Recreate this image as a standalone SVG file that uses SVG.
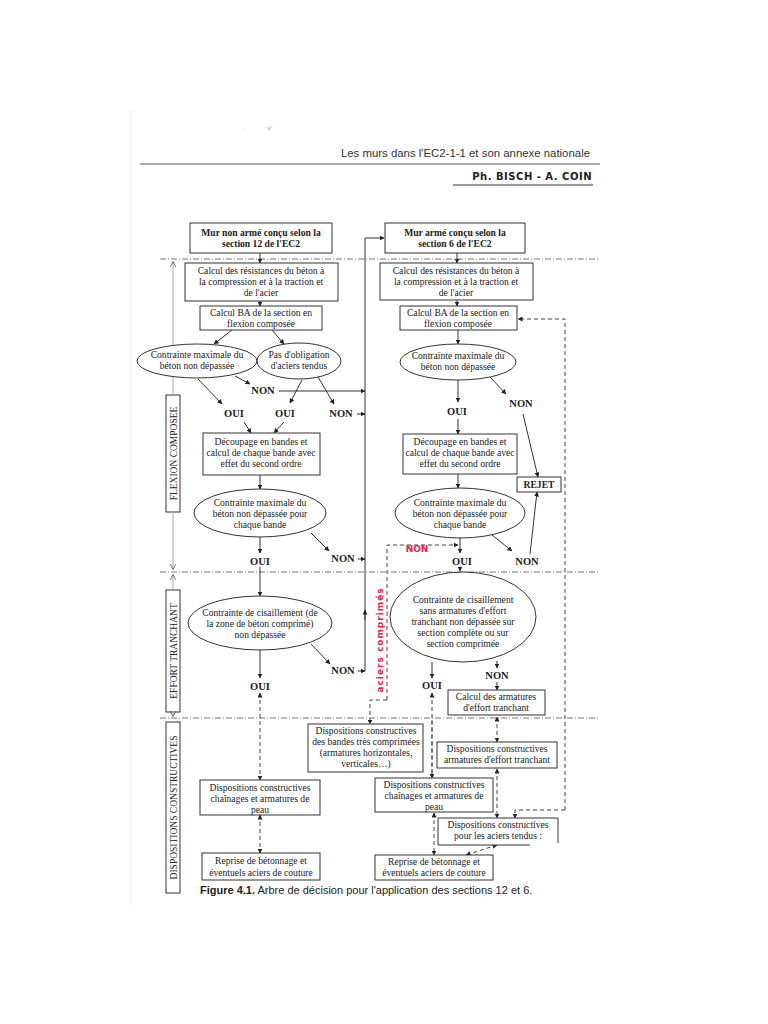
<svg xmlns="http://www.w3.org/2000/svg" width="768" height="1024" viewBox="0 0 768 1024">
<defs>
<marker id="a" viewBox="0 0 10 10" refX="9" refY="5" markerWidth="5" markerHeight="5" orient="auto-start-reverse"><path d="M0,0 L10,5 L0,10 z" fill="#222"/></marker>
<marker id="o" viewBox="0 0 10 10" refX="9" refY="5" markerWidth="6" markerHeight="6" orient="auto-start-reverse"><path d="M0,0 L10,5 L0,10" fill="none" stroke="#444" stroke-width="1.2"/></marker>
<style>
.b{fill:#fff;stroke:#333;stroke-width:1}
.t{font-family:"Liberation Serif","Times New Roman",serif;font-size:9.6px;fill:#222;text-anchor:middle}
.tb{font-family:"Liberation Serif","Times New Roman",serif;font-size:9.6px;font-weight:bold;fill:#222;text-anchor:middle}
.on{font-family:"Liberation Serif","Times New Roman",serif;font-size:10.5px;font-weight:bold;fill:#222;text-anchor:middle}
.side{font-family:"Liberation Serif","Times New Roman",serif;font-size:9.5px;fill:#222;text-anchor:middle}
.l{fill:none;stroke:#333;stroke-width:1}
.d{fill:none;stroke:#444;stroke-width:1;stroke-dasharray:4,3}
.sep{fill:none;stroke:#777;stroke-width:1;stroke-dasharray:6,2,1,2}
.red{font-family:"DejaVu Sans","Liberation Sans",sans-serif;font-size:9px;fill:#e8204a;text-anchor:middle;font-weight:bold}
</style>
</defs>
<rect width="768" height="1024" fill="#fff"/>
<line x1="131" y1="110" x2="131" y2="905" stroke="#e6e6e6" stroke-width="1"/>
<text x="242" y="130" font-family="Liberation Sans,sans-serif" font-size="5" fill="#999">· .</text>
<text x="268" y="130" font-family="Liberation Sans,sans-serif" font-size="5" fill="#999">ɞ''</text>

<text x="590" y="157" font-family="Liberation Sans,Arial,sans-serif" font-size="11.4" fill="#333" text-anchor="end">Les murs dans l'EC2-1-1 et son annexe nationale</text>
<line x1="140" y1="164" x2="600" y2="164" stroke="#555" stroke-width="1"/>
<text x="592" y="180" font-family="DejaVu Sans,sans-serif" font-size="10" font-weight="bold" fill="#222" text-anchor="end" letter-spacing="0.5">Ph. BISCH - A. COIN</text>
<line x1="453" y1="185" x2="593" y2="185" stroke="#333" stroke-width="1.2"/>

<g id="separators">
<line class="sep" x1="160" y1="259" x2="600" y2="259"/>
<line class="sep" x1="160" y1="572" x2="600" y2="572"/>
<line class="sep" x1="160" y1="718" x2="600" y2="718"/>
</g>

<g id="sidebar">
<g id="lab-flexion"><rect class="b" x="166" y="395" width="14" height="117"/><text class="side" transform="translate(176.5,453.5) rotate(-90)">FLEXION COMPOSEE</text></g>
<g id="lab-effort"><rect class="b" x="166" y="590" width="14" height="122"/><text class="side" transform="translate(176.5,651) rotate(-90)">EFFORT TRANCHANT</text></g>
<g id="lab-dispo"><rect class="b" x="166" y="722" width="14" height="171"/><text class="side" font-family="Liberation Sans,Arial,sans-serif" transform="translate(176.5,807.5) rotate(-90)">DISPOSITIONS CONSTRUCTIVES</text></g>
<line x1="173" y1="262" x2="173" y2="395" stroke="#aaa" marker-start="url(#o)"/>
<line x1="173" y1="512" x2="173" y2="569" stroke="#aaa" marker-end="url(#o)"/>
<line x1="173" y1="575" x2="173" y2="590" stroke="#aaa" marker-start="url(#o)"/>
<line x1="173" y1="712" x2="173" y2="716" stroke="#aaa" marker-end="url(#o)"/>
</g>

<g id="connectors">
<line class="l" x1="260" y1="253" x2="260" y2="263" marker-end="url(#a)"/>
<line class="l" x1="260" y1="301" x2="260" y2="306" marker-end="url(#a)"/>
<line class="l" x1="232" y1="330" x2="214" y2="344" marker-end="url(#a)"/>
<line class="l" x1="272" y1="330" x2="284" y2="344" marker-end="url(#a)"/>
<line class="l" x1="235" y1="376" x2="250" y2="384" marker-end="url(#a)"/>
<line class="l" x1="279" y1="391" x2="365" y2="391" marker-end="url(#a)"/>
<line class="l" x1="198" y1="379" x2="222" y2="404" marker-end="url(#a)"/>
<line class="l" x1="302" y1="380" x2="290" y2="403" marker-end="url(#a)"/>
<line class="l" x1="318" y1="377" x2="334" y2="404" marker-end="url(#a)"/>
<line class="l" x1="357" y1="414" x2="365" y2="414" marker-end="url(#a)"/>
<line class="l" x1="244" y1="422" x2="251" y2="433" marker-end="url(#a)"/>
<line class="l" x1="284" y1="422" x2="274" y2="433" marker-end="url(#a)"/>
<line class="l" x1="260" y1="475" x2="260" y2="489" marker-end="url(#a)"/>
<line class="l" x1="311" y1="533" x2="329" y2="551" marker-end="url(#a)"/>
<line class="l" x1="358" y1="559" x2="365" y2="559" marker-end="url(#a)"/>
<line class="l" x1="260" y1="537" x2="260" y2="553" marker-end="url(#a)"/>
<line class="l" x1="260" y1="567" x2="260" y2="596" marker-end="url(#a)"/>
<line class="l" x1="311" y1="644" x2="330" y2="664" marker-end="url(#a)"/>
<line class="l" x1="358" y1="671" x2="365" y2="671" marker-end="url(#a)"/>
<line class="l" x1="260" y1="650" x2="260" y2="678" marker-end="url(#a)"/>
<line class="d" x1="260" y1="693" x2="260" y2="780" marker-start="url(#a)" marker-end="url(#a)"/>
<line class="d" x1="260" y1="815" x2="260" y2="853" marker-start="url(#a)" marker-end="url(#a)"/>
<polyline class="l" points="365,671 365,238 384,238" marker-end="url(#a)"/>
<line class="l" x1="365" y1="620" x2="365" y2="610" marker-end="url(#a)"/>
<line class="l" x1="457" y1="253" x2="457" y2="263" marker-end="url(#a)"/>
<line class="l" x1="457" y1="300" x2="457" y2="306" marker-end="url(#a)"/>
<line class="l" x1="458" y1="330" x2="458" y2="344" marker-end="url(#a)"/>
<line class="l" x1="458" y1="380" x2="458" y2="402" marker-end="url(#a)"/>
<line class="l" x1="458" y1="419" x2="458" y2="434" marker-end="url(#a)"/>
<line class="l" x1="490" y1="377" x2="506" y2="394" marker-end="url(#a)"/>
<line class="l" x1="523" y1="414" x2="538" y2="477" marker-end="url(#a)"/>
<line class="l" x1="458" y1="474" x2="458" y2="488" marker-end="url(#a)"/>
<line class="l" x1="492" y1="535" x2="512" y2="551" marker-end="url(#a)"/>
<line class="l" x1="530" y1="554" x2="537" y2="492" marker-end="url(#a)"/>
<line class="l" x1="460" y1="538" x2="460" y2="553" marker-end="url(#a)"/>
<line class="l" x1="460" y1="567" x2="460" y2="571" marker-end="url(#a)"/>
<line class="l" x1="432" y1="662" x2="432" y2="678" marker-end="url(#a)"/>
<line class="d" x1="432" y1="693" x2="432" y2="778" marker-start="url(#a)"/>
<line class="d" x1="432" y1="720" x2="432" y2="778" marker-end="url(#a)"/>
<line class="l" x1="497" y1="661" x2="497" y2="668" marker-end="url(#a)"/>
<line class="l" x1="497" y1="682" x2="497" y2="690" marker-end="url(#a)"/>
<line class="d" x1="497" y1="717" x2="497" y2="742" marker-start="url(#a)" marker-end="url(#a)"/>
<line class="d" x1="497" y1="769" x2="497" y2="818" marker-start="url(#a)" marker-end="url(#a)"/>
<line class="d" x1="497" y1="845" x2="466" y2="855" marker-start="url(#a)" marker-end="url(#a)"/>
<line class="d" x1="434" y1="813" x2="434" y2="855" marker-start="url(#a)" marker-end="url(#a)"/>
<polyline class="d" points="565,810 565,319 518,319" marker-end="url(#a)"/>
<polyline class="d" points="565,810 515,810 515,818" marker-end="url(#a)"/>
<polyline class="d" points="387,700 387,545 458,545" marker-end="url(#a)"/>
<polyline class="d" points="387,700 370,700 370,724" marker-end="url(#a)"/>
</g>

<text class="red" x="417" y="552" font-size="8">NON</text>
<text class="red" transform="translate(383,640) rotate(-90)" font-size="9" letter-spacing="1">aciers comprimés</text>

<g id="n-mur-non-arme"><rect class="b" x="190" y="223" width="142" height="30"/><text class="tb" x="261" y="236">Mur non armé conçu selon la</text><text class="tb" x="261" y="247">section 12 de l'EC2</text></g>
<g id="n-calcul-res-l"><rect class="b" x="185" y="263" width="153" height="38"/><text class="t" x="261" y="274">Calcul des résistances du béton à</text><text class="t" x="261" y="285">la compression et à la traction et</text><text class="t" x="261" y="296">de l'acier</text></g>
<g id="n-calcul-ba-l"><rect class="b" x="200" y="306" width="122" height="24"/><text class="t" x="261" y="316">Calcul BA de la section en</text><text class="t" x="261" y="327">flexion composée</text></g>
<g id="n-contr-max-l"><ellipse class="b" cx="197" cy="361" rx="60" ry="17"/><text class="t" x="197" y="358">Contrainte maximale du</text><text class="t" x="197" y="369">béton non dépassée</text></g>
<g id="n-pas-oblig"><ellipse class="b" cx="299" cy="361" rx="42" ry="18"/><text class="t" x="299" y="358">Pas d'obligation</text><text class="t" x="299" y="369">d'aciers tendus</text></g>
<g id="lbl-l1"><text class="on" x="263" y="394">NON</text><text class="on" x="234" y="417">OUI</text><text class="on" x="285" y="417">OUI</text><text class="on" x="341" y="417">NON</text></g>
<g id="n-decoupage-l"><rect class="b" x="203" y="433" width="117" height="42"/><text class="t" x="261" y="445">Découpage en bandes et</text><text class="t" x="261" y="456">calcul de chaque bande avec</text><text class="t" x="261" y="467">effet du second ordre</text></g>
<g id="n-contr-bande-l"><ellipse class="b" cx="260" cy="513" rx="66" ry="24"/><text class="t" x="260" y="506">Contrainte maximale du</text><text class="t" x="260" y="517">béton non dépassée pour</text><text class="t" x="260" y="528">chaque bande</text></g>
<g id="lbl-l2"><text class="on" x="343" y="562">NON</text><text class="on" x="260" y="565">OUI</text></g>
<g id="n-cisail-l"><ellipse class="b" cx="260" cy="623" rx="72" ry="27"/><text class="t" x="260" y="616">Contrainte de cisaillement (de</text><text class="t" x="260" y="627">la zone de béton comprimé)</text><text class="t" x="260" y="638">non dépassée</text></g>
<g id="lbl-l3"><text class="on" x="343" y="674">NON</text><text class="on" x="260" y="690">OUI</text></g>
<g id="n-dispo-chain-l"><rect class="b" x="200" y="780" width="120" height="35"/><text class="t" x="260" y="791">Dispositions constructives</text><text class="t" x="260" y="802">chaînages et armatures de</text><text class="t" x="260" y="813">peau</text></g>
<g id="n-reprise-l"><rect class="b" x="202" y="853" width="118" height="27"/><text class="t" x="261" y="864">Reprise de bétonnage et</text><text class="t" x="261" y="876">éventuels aciers de couture</text></g>

<g id="n-mur-arme"><rect class="b" x="385" y="223" width="140" height="30"/><text class="tb" x="455" y="236">Mur armé conçu selon la</text><text class="tb" x="455" y="247">section 6 de l'EC2</text></g>
<g id="n-calcul-res-r"><rect class="b" x="380" y="263" width="153" height="37"/><text class="t" x="456" y="274">Calcul des résistances du béton à</text><text class="t" x="456" y="285">la compression et à la traction et</text><text class="t" x="456" y="296">de l'acier</text></g>
<g id="n-calcul-ba-r"><rect class="b" x="400" y="306" width="117" height="24"/><text class="t" x="458" y="316">Calcul BA de la section en</text><text class="t" x="458" y="327">flexion composée</text></g>
<g id="n-contr-max-r"><ellipse class="b" cx="458" cy="362" rx="58" ry="18"/><text class="t" x="458" y="359">Contrainte maximale du</text><text class="t" x="458" y="370">béton non dépassée</text></g>
<g id="lbl-r1"><text class="on" x="457" y="415">OUI</text><text class="on" x="521" y="407">NON</text></g>
<g id="n-decoupage-r"><rect class="b" x="403" y="434" width="114" height="40"/><text class="t" x="460" y="445">Découpage en bandes et</text><text class="t" x="460" y="456">calcul de chaque bande avec</text><text class="t" x="460" y="467">effet du second ordre</text></g>
<g id="n-rejet"><rect class="b" x="517" y="477" width="44" height="15"/><text class="tb" x="539" y="488">REJET</text></g>
<g id="n-contr-bande-r"><ellipse class="b" cx="460" cy="513" rx="65" ry="25"/><text class="t" x="460" y="506">Contrainte maximale du</text><text class="t" x="460" y="517">béton non dépassée pour</text><text class="t" x="460" y="528">chaque bande</text></g>
<g id="lbl-r2"><text class="on" x="462" y="565">OUI</text><text class="on" x="527" y="565">NON</text></g>
<g id="n-cisail-r"><ellipse class="b" cx="463" cy="617" rx="73" ry="45"/><text class="t" x="463" y="603">Contrainte de cisaillement</text><text class="t" x="463" y="614">sans armatures d'effort</text><text class="t" x="463" y="625">tranchant non dépassée sur</text><text class="t" x="463" y="636">section complète ou sur</text><text class="t" x="463" y="647">section comprimée</text></g>
<g id="lbl-r3"><text class="on" x="432" y="689">OUI</text><text class="on" x="497" y="679">NON</text></g>
<g id="n-calc-arm"><rect class="b" x="448" y="690" width="97" height="25"/><text class="t" x="496" y="700">Calcul des armatures</text><text class="t" x="496" y="711">d'effort tranchant</text></g>
<g id="n-dispo-bandes"><rect class="b" x="308" y="724" width="115" height="48"/><text class="t" x="366" y="734">Dispositions constructives</text><text class="t" x="366" y="745">des bandes très comprimées</text><text class="t" x="366" y="756">(armatures horizontales,</text><text class="t" x="366" y="767">verticales…)</text></g>
<g id="n-dispo-arm"><rect class="b" x="437" y="742" width="120" height="26"/><text class="t" x="497" y="752">Dispositions constructives</text><text class="t" x="497" y="763">armatures d'effort tranchant</text></g>
<g id="n-dispo-chain-r"><rect class="b" x="375" y="778" width="118" height="34"/><text class="t" x="434" y="788">Dispositions constructives</text><text class="t" x="434" y="799">chaînages et armatures de</text><text class="t" x="434" y="810">peau</text></g>
<g id="n-dispo-tendus"><path class="b" d="M558,843 L558,818 L438,818 L438,845 L530,845"/><text class="t" x="498" y="828">Dispositions constructives</text><text class="t" x="498" y="839">pour les aciers tendus :</text></g>
<g id="n-reprise-r"><rect class="b" x="375" y="855" width="118" height="25"/><text class="t" x="434" y="865">Reprise de bétonnage et</text><text class="t" x="434" y="876">éventuels aciers de couture</text></g>

<text x="200" y="894" font-family="Liberation Sans,Arial,sans-serif" font-size="11" fill="#222"><tspan font-weight="bold">Figure 4.1.</tspan> Arbre de décision pour l'application des sections 12 et 6.</text>
</svg>
